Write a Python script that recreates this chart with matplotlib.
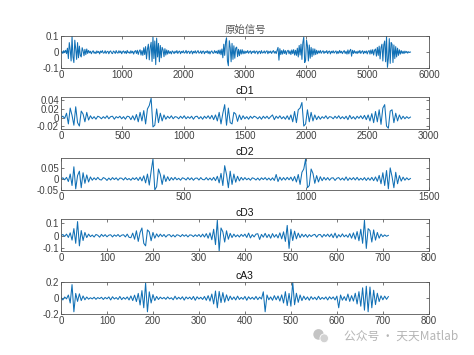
import numpy as np
import matplotlib
matplotlib.use('Agg')
import matplotlib.pyplot as plt
from matplotlib.patches import Ellipse

plt.rcParams['font.family'] = ['Liberation Sans', 'Noto Sans CJK SC', 'DejaVu Sans']

# signal values, in units of 0.001 (uniform sampling)
orig_vals = [
    0, 5, -8, 10, -3, 12, -9,
    25, -40, 60, 15, -55, 100, -30, -65, 75, 20, -45, 60, -35, 38, -20, -30, 28, 10, -22, 18, -15, 20,
    -8, 11, -4, 6, -10, 3, 9, -7, 2, -9, 8, -3, 5, -11, 7, -2, 10, -6, -4, 9,
    -8, 3, 6, -10, 4, 8, -5, -9, 7, 2, -8, 10, -3, -6, 9, -4, 7, -10, 3, 8,
    -6, 5, -9, 11, -4, 2, -8, 9, -5, 6, -12, 4, 10, -8, 12, -14, 6, 15, -18, 10,
    -20, 28, -15, 35, -42, 20, 50, -48, 30, 62, -58, 95, -40, 70, -78, 88, -30, 55, -60, 42,
    -35, 30, 15, -28, 22, -18, 14, -12,
    10, -7, 4, -11, 8, 2, -9, 6, -4, 10, -8, 3, 7, -10, 5, -3, 9, -6, -2, 11,
    -8, 4, 6, -9, 3, 8, -11, 5, -4, 9, -7, 2, 10, -6, -3, 8, -9, 5, 7, -10,
    4, -2, 9, -8, 6, -11, 3, 8, -5, -7, 10, -4, 6, -9, 12, -10, 14, -16,
    20, -35, 50, -20, 65, 90, -55, -85, 72, 30, -60, 55, -45, 40, -38, 25, 32, -28, 18, -22,
    15, -12, 16, -10, 8,
    -9, 6, -4, 10, -7, 3, 8, -10, 5, -2, 9, -8, 4, 7, -11, 3, 6, -9, 10, -5,
    -3, 8, -7, 4, 9, -10, 6, -4, 7, -8, 3, 10, -6, 5, -9, 12,
    30, -50, 22, -15, 10,
    -12, 15, -8, 10, -14, 6, 12, -10, 8, -15, 14, -9, 16, -18, 12, -20,
    25, -30, 42, -18, 50, -45, 60, 95, -65, -50, 75, 40, -55, 45, -38, 30, -28, 22, -18, 20,
    -15, 12,
    -10, 8, -5, 11, -7, 3, 9, -8, 5, -3, 10, -9, 4, 7, -11, 6, -4, 9, -6, 2,
    8, -10, 5, -7, 11, -4, 6, -9, 3, 10, -8, 5, -12, 14, -10, 8, 18, -25, 12, -8,
    10, -6, 4, -9, 7, -5, 11, -8, 3, 9, -10, 6, -4, 8, -11, 5, 10, -12, 14, -10,
    16, -18, 12, 20,
    -25, 30, -20, 38, -42, 28, 50, -55, 45, 70, -60, 100, -95, -40, 85, -70, 60, 50, -65, 45,
    -40, 35, -30, 25, -20, 15,
    -12, 10, -8, 6, -9, 7, -4, 5, -6, 3, -2, 1,
]
cd1_vals = [
    0, 3, -2,
    10, -15, 22, 5, -18, 25, -12, -20, 15, 8, -10, 12, -6,
    4, -3, 2, -4, 3, 1, -3, 2, -2, 4, -3, 2, 3, -4, 2, -1, 3, -3, 2, -4, 3, 2, -5, 4, -6, 7,
    -10, 12, -8, 16, -15, 20, 28, 45, -22, -18, 20, -12, 10, -8, 6,
    -4, 3, -2, 4, -3, 2, 1, -3, 3, -2, 4, -3, 2, -2, 3, -4, 2, 3, -3, 2, -4, 3, -2, 4, -3, 5, -5, 6,
    -8, 12, -15, 10, 30, -18, 22, -12, -15, 12, 8, -9, 6, -5,
    4, -3, 2, -4, 3, -2, 3, 1, -3, 2, -4, 3, -2, 3, -3, 2, 6, -5, 3, -2, 4, -3, 2, -4, 4, -5, 6,
    -10, 14, -12, 18, 22, 35, -20, -15, 18, -10, 12, -8, 6, -5,
    3, -4, 2, -2, 4, -3, 2, 1, -3, 3, -2, 4, -3, 2, -3, 3, -5, 5, -3, 2, -4, 3, -2, 4, -3, 5, -5, 6, -8,
    9, -12, 14, -10, 18, -16, 22, 30, -20, -25, 15, 18, -12, 10, -8, 6,
    -4, 3, -3, 2, -2, 1,
]
cd2_vals = [
    0, 5, -4, 7,
    -12, 22, -30, 55, -45, 15, 35, -40, 28, -20, 18, -14, 9,
    -6, 5, -4, 7, -3, -5, 6, 2, -7, 4, -5, 6, -3, 5, -6, 4, 3, -5, 6, -4, 2, -6, 5, -3, 6, -7, 8, -9,
    14, -18, 22, -28, 35, 90, -50, -35, 45, 20, -25, 18, -12, 10,
    -8, 6, -5, 7, -4, 3, -6, 5, 2, -5, 6, -4, 5, -6, 3, 4, -5, 6, -3, -4, 6, -5, 4, -6, 7, -8,
    12, -18, 25, -30, 60, 20, -40, 35, -25, 22, -15, 12, -9,
    7, -5, 6, -4, 3, -6, 5, 2, -5, 4, -6, 5, -3, 6, -5, 4, -6, 5, -7,
    20, -12, 8, -6,
    6, -5, 7, -4, 8, -9, 11,
    -14, 20, -25, 30, 45, 90, -40, -30, 45, 25, -20, 15, -14, 10, -8,
    7, -5, 6, -6, 4, 5, -7, 3, 6, -5, 4, -6, 9, -7, 5, -4, 6, -5, 7, -6, 3, -5, 6, -7, 5, -6, 7, -8, 9, -11,
    16, -22, 28, -30, 38, -45, 50, 10, -40, 30, -22, 15, -10,
    8, -6, 5, -4, 2,
]
cd3_vals = [
    0, 9, -6, 12, -14,
    22, -35, 55, -60, 110, -80, 40, -38, 25, -15,
    12, -8, 5, -11, 9, 3, -12, 10, -6, 8, -9, 4, 7, -10, 6, -5, 9, -8, 4, 7, -10, 12, -13, -16, 20,
    -28, 38, -45, 25, 60, -60, -80, 45, 30, -40, 25, -20, 14,
    -10, 12, -7, 9, -11, 5, 8, -9, 6, -10, 7, 3, -8, 9, -5, 7, -10, 6, 4, -8, 7, -6, 9, -10, 12, -11,
    16, -20, 22,
    -32, 50, -70, 120, -120, 60, 30, -50, 38, -28, 18,
    -15, 12, -9, 6, -11, 10, -6, 12, -14, 20, -18, 8, -10, 12, 15, -30, 10, -12, 18, -15, 10, -20, 16,
    -12, 9, -18, 22, -25, 30,
    -45, 80, -100, 50, -38, 35, -25, 20,
    -16, 12, -9, 10, -13, 8, -7, 5, 10, -12, 7, 9, -12, 10, -6, 12, -9, 13, -16, 20, -18, 8, -10, 14,
    -9, 6, -13, 16, -20, 22, -28,
    32, -40, 50, -60, 120, -100, 55, 40, -50, 45, -35, 25, -20, 12,
    -8, 6, -5, 2,
]
ca3_vals = [
    10, -22, 15, -8,
    40, -60, 170, -170, 60, -40, 55, -30, 28, -20,
    15, -12, 6, -9, 12, -14, 8, -6, 12, -16, 10, -8, 16, -22, 18, -10, 8, -16, 22, -18, 10, -12, 16, -22,
    28, -30, 38, -42,
    60, -85, 95, -120, 190, -170, 80, -60, 45, -30, 22,
    -16, 14, -8, 10, -14, 16, -9, 6, -20, 25, -14, 12, -12, 18, -24, 16, -8, 14, -16, 22, -26, 18, -10,
    12, -16, 22, -26, 32, -36,
    52, -72, 90, -120, 85, -55, 70, -50, 42, -32, 26, -18,
    16, -22, 26, -16, 10, -14, 22, -26, 18, -12, 12, -16, 22, -18, 14, -10,
    80, -170, 40, -20,
    16, -26, 32, -20, 28, -36, 42,
    -60, 82, -92, 60, -100, 200, -82, 62, -52, 40, -30,
    26, -18, 16, -26, 20, -14, 12, -20, 24, -16, 10, -12, 16, -22, 18, -10, 16, -22, 26,
    -120, 40, -25, 20,
    -30, 52, -40, 32, -36, 62, -72, 82,
    -100, 130, -150, 150, -170, 140, -120, 100, -80, 62, -42,
    30, -20, 26, -14, 20,
]

titles = ['原始信号', 'cD1', 'cD2', 'cD3', 'cA3']
lengths = [5700, 2850, 1425, 712, 712]
series = [orig_vals, cd1_vals, cd2_vals, cd3_vals, ca3_vals]
xlims = [(0, 6000), (0, 3000), (0, 1500), (0, 800), (0, 800)]
xstep = [1000, 500, 500, 100, 100]
ylims = [(-0.1, 0.1), (-0.0265, 0.048), (-0.05, 0.095), (-0.12, 0.13), (-0.2, 0.2)]
yticks = [[-0.1, 0, 0.1], [-0.02, 0, 0.02, 0.04], [-0.05, 0, 0.05], [-0.1, 0, 0.1], [-0.2, 0, 0.2]]

fig = plt.figure(figsize=(4.74, 3.55), dpi=100)
bottoms = [0.808, 0.637, 0.465, 0.293, 0.115]
gray = '#404040'

for k in range(5):
    ax = fig.add_axes([0.1287, bottoms[k], 0.776, 0.090])
    y = np.array(series[k]) / 1000.0
    x = np.linspace(0, lengths[k], len(y))
    ax.plot(x, y, color='#1170b5', linewidth=0.75)
    ax.set_xlim(*xlims[k])
    ax.set_ylim(*ylims[k])
    ax.set_xticks(np.arange(xlims[k][0], xlims[k][1] + 1, xstep[k]))
    ax.set_yticks(yticks[k])
    ax.set_yticklabels([f'{v:g}' for v in yticks[k]])
    ax.tick_params(direction='in', top=True, right=True, labelsize=7,
                   colors=gray, length=2.5, width=0.5, pad=1.5)
    for s in ax.spines.values():
        s.set_color('#555555')
        s.set_linewidth(0.6)
    if k == 0:
        ax.set_title(titles[k], fontsize=7.5, color='#555555', pad=2,
                     family=['Noto Sans CJK SC', 'DejaVu Sans'])
    else:
        ax.set_title(titles[k], fontsize=7.5, color='#111111', pad=2)

# watermark: small chat-bubble icon + text
fig.patches.append(Ellipse((0.672, 0.058), 0.022, 0.030, transform=fig.transFigure,
                           facecolor='#c4c4c4', edgecolor='none'))
fig.patches.append(Ellipse((0.684, 0.047), 0.018, 0.025, transform=fig.transFigure,
                           facecolor='#d2d2d2', edgecolor='white', linewidth=0.6))
fig.text(0.966, 0.053, '公众号 · 天天Matlab', fontsize=8.5, color='#b5b5b5',
         ha='right', va='center', family=['Noto Sans CJK SC', 'DejaVu Sans'])

fig.savefig('out.png', dpi=100)
